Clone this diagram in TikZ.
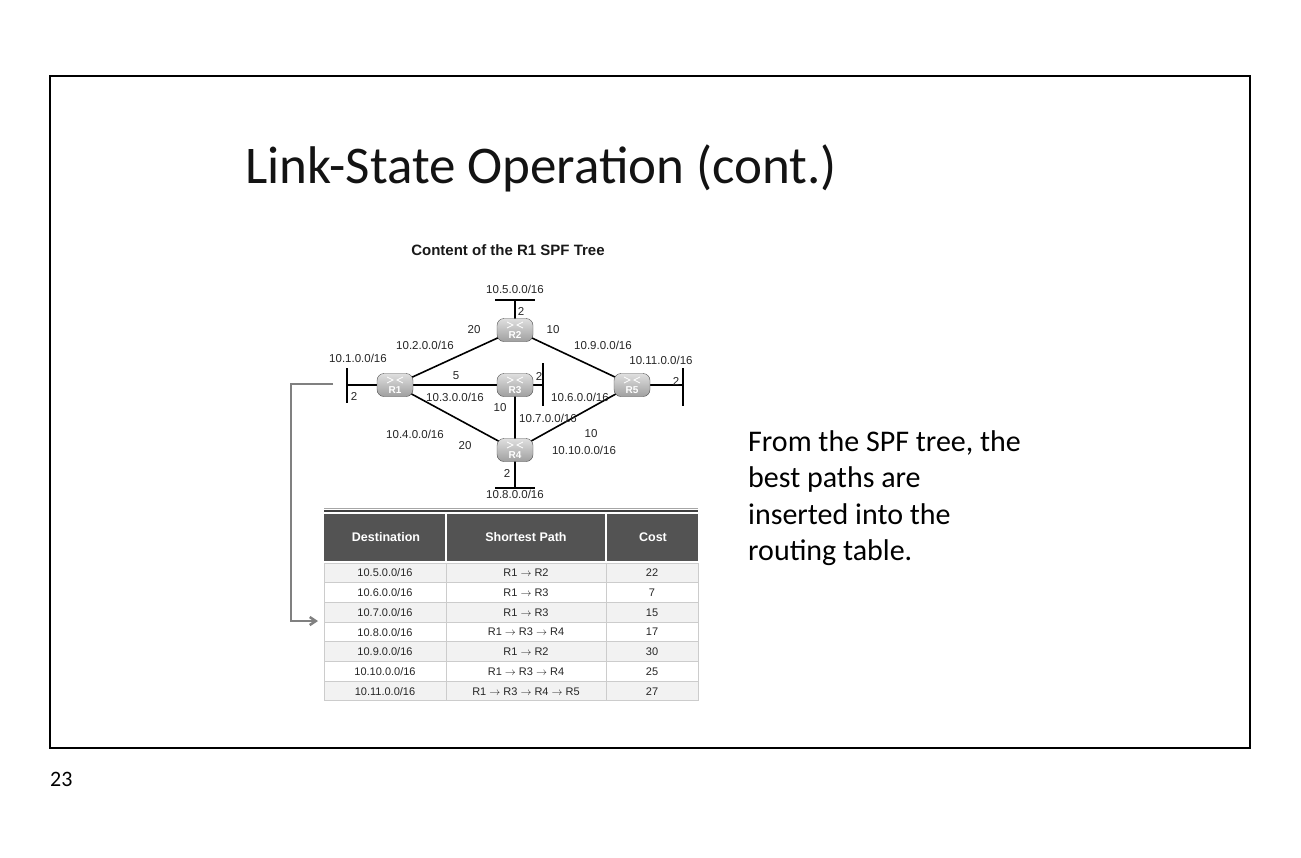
\documentclass[tikz,border=0pt]{standalone}
\usepackage{fontspec}
\setmainfont{Carlito}
\newfontfamily\arial{Liberation Sans}
\usetikzlibrary{arrows.meta}
\begin{document}
\begin{tikzpicture}[x=1pt,y=-1pt,
  rtr/.style={draw=gray!60!black,rounded corners=7pt,minimum width=36pt,minimum height=23pt,top color=gray!25,bottom color=gray!75,inner sep=0pt},
  rl/.style={font=\arial\bfseries\fontsize{10}{10}\selectfont,text=white,inner sep=0pt},
  lnk/.style={line width=1.6pt,black},
  bar/.style={line width=2pt,black},
  lbl/.style={font=\arial\fontsize{11.5}{12}\selectfont,text=gray!30!black,inner sep=0pt},
  cell/.style={draw=gray!40,line width=1pt},
  ctxt/.style={font=\arial\fontsize{11}{12}\selectfont,text=gray!30!black},
  hdr/.style={font=\arial\bfseries\fontsize{12.5}{14}\selectfont,text=white}]
\useasboundingbox (0,0) rectangle (1301,857);
\fill[white] (0,0) rectangle (1301,857);
\draw[line width=1.5pt] (50,76) rectangle (1250,748);
\node[anchor=base west,font=\fontsize{53}{56}\selectfont,inner sep=0pt,text=gray!15!black] (title) at (245,183) {Link-State Operation (cont.)};
\node[font=\arial\bfseries\fontsize{15}{16}\selectfont,text=gray!20!black] (cap) at (508,250) {Content of the R1 SPF Tree};
\coordinate (b1a) at (347,368); \coordinate (b1b) at (347,403);
\coordinate (b2a) at (495,300); \coordinate (b2b) at (535,300);
\coordinate (b3a) at (543,363); \coordinate (b3b) at (543,406);
\coordinate (b5a) at (683,368); \coordinate (b5b) at (683,406);
\coordinate (b4a) at (495,488); \coordinate (b4b) at (535,488);
\coordinate (b1) at (347,385); \coordinate (b2) at (515,300); \coordinate (b3) at (543,385);
\coordinate (b5) at (683,385); \coordinate (b4) at (515,488);
\draw[bar] (b1a)--(b1b); \draw[bar] (b2a)--(b2b); \draw[bar] (b3a)--(b3b); \draw[bar] (b5a)--(b5b); \draw[bar] (b4a)--(b4b);
\draw[lnk] (b1)--(395,385); \draw[lnk] (b2)--(515,330); \draw[lnk] (b3)--(515,385); \draw[lnk] (b5)--(632,385); \draw[lnk] (b4)--(515,450);
\coordinate (c1) at (395,385); \coordinate (c2) at (515,330); \coordinate (c3) at (515,385); \coordinate (c4) at (515,450); \coordinate (c5) at (632,385);
\draw[lnk] (c1)--(c2); \draw[lnk] (c2)--(c5); \draw[lnk] (c1)--(c3); \draw[lnk] (c3)--(c4); \draw[lnk] (c1)--(c4); \draw[lnk] (c4)--(c5);
\foreach \r/\c in {R1/c1,R2/c2,R3/c3,R4/c4,R5/c5}{
  \node[rtr] (\r) at (\c) {};
  \draw[white,line width=0.7pt] ([xshift=-8pt,yshift=8pt]\r.center)--([xshift=-2pt,yshift=5pt]\r.center)--([xshift=-8pt,yshift=2pt]\r.center);
  \draw[white,line width=0.7pt] ([xshift=8pt,yshift=8pt]\r.center)--([xshift=2pt,yshift=5pt]\r.center)--([xshift=8pt,yshift=2pt]\r.center);
  \node[rl] (\r t) at ([yshift=-5pt]\r.center) {\r};
}
\node[lbl] (l1) at (515,289) {10.5.0.0/16};
\node[lbl] (l2) at (521,311) {2};
\node[lbl] (l3) at (474,330) {20};
\node[lbl] (l4) at (553,330) {10};
\node[lbl] (l5) at (425,345) {10.2.0.0/16};
\node[lbl] (l6) at (603,345) {10.9.0.0/16};
\node[lbl] (l7) at (358,358) {10.1.0.0/16};
\node[lbl] (l8) at (661,360) {10.11.0.0/16};
\node[lbl] (l9) at (456,376) {5};
\node[lbl] (l10) at (539,376) {2};
\node[lbl] (l11) at (676,381) {2};
\node[lbl] (l12) at (354,396) {2};
\node[lbl] (l13) at (455,397) {10.3.0.0/16};
\node[lbl] (l14) at (580,397) {10.6.0.0/16};
\node[lbl] (l15) at (500,408) {10};
\node[lbl] (l16) at (548,418) {10.7.0.0/16};
\node[lbl] (l17) at (415,434) {10.4.0.0/16};
\node[lbl] (l18) at (591,434) {10};
\node[lbl] (l19) at (465,446) {20};
\node[lbl] (l20) at (584,450) {10.10.0.0/16};
\node[lbl] (l21) at (507,473) {2};
\node[lbl] (l22) at (515,494) {10.8.0.0/16};
\coordinate (a0) at (333,384); \coordinate (a1) at (318,621);
\draw[gray,line width=2.5pt,-{Straight Barb[length=6pt,width=8pt]}] (a0) -- (291,384) -- (291,621) -- (a1);
\draw[gray!70,line width=1pt] (324,508)--(698,508);
\draw[gray!50!black,line width=1.5pt] (324,511)--(698,511);
\fill[gray!65!black] (324,514) rectangle (698,561);
\draw[white,line width=1.5pt] (446,514)--(446,561) (606,514)--(606,561);
\node[hdr] (h1) at (386,537) {Destination};
\node[hdr] (h2) at (526,537) {Shortest Path};
\node[hdr] (h3) at (653,537) {Cost};
\foreach \i/\d/\p/\c in {0/10.5.0.0\slash 16/R1 $\rightarrow$ R2/22,1/10.6.0.0\slash 16/R1 $\rightarrow$ R3/7,2/10.7.0.0\slash 16/R1 $\rightarrow$ R3/15,3/10.8.0.0\slash 16/R1 $\rightarrow$ R3 $\rightarrow$ R4/17,4/10.9.0.0\slash 16/R1 $\rightarrow$ R2/30,5/10.10.0.0\slash 16/R1 $\rightarrow$ R3 $\rightarrow$ R4/25,6/10.11.0.0\slash 16/R1 $\rightarrow$ R3 $\rightarrow$ R4 $\rightarrow$ R5/27}{
  \pgfmathsetmacro\yy{563+\i*19.7}
  \pgfmathtruncatemacro\odd{mod(\i,2)}
  \ifnum\odd=0 \def\fc{gray!10}\else\def\fc{white}\fi
  \filldraw[cell,fill=\fc] (324,\yy) rectangle (446,\yy+19.7);
  \filldraw[cell,fill=\fc] (446,\yy) rectangle (606,\yy+19.7);
  \filldraw[cell,fill=\fc] (606,\yy) rectangle (698,\yy+19.7);
  \node[ctxt,text depth=0pt] (d\i) at (385,\yy+10) {\d};
  \node[ctxt,text depth=0pt] (p\i) at (526,\yy+10) {\p};
  \node[ctxt,text depth=0pt] (c\i) at (652,\yy+10) {\c};
}
\node[anchor=north west,align=left,font=\fontsize{30}{36.5}\selectfont,inner sep=0pt] (txt) at (748,430) {From the SPF tree, the\\best paths are\\inserted into the\\routing table.};
\node[anchor=base west,font=\fontsize{22}{24}\selectfont,inner sep=0pt] (pg) at (50,786) {23};
\end{tikzpicture}
\end{document}
